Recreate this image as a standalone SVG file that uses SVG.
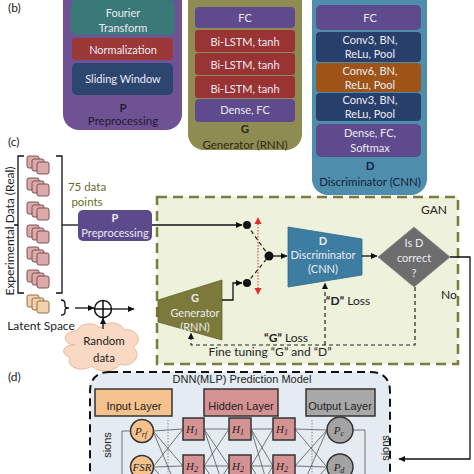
<svg xmlns="http://www.w3.org/2000/svg" width="474" height="474" viewBox="0 0 474 474">
<defs>
<style>
.lab{font-family:Lato,"Open Sans","Liberation Sans",sans-serif;font-size:11px;fill:#ecebf3;text-anchor:middle}
.dark{font-family:Lato,"Open Sans","Liberation Sans",sans-serif;font-size:11.5px;text-anchor:middle}
.cap{font-family:Lato,"Liberation Sans",sans-serif;font-size:12px;fill:#222}
.ln{stroke:#111;stroke-width:1.3;fill:none}
.dsh{stroke:#222;stroke-width:1.2;fill:none;stroke-dasharray:4,3}
.net{stroke:#555;stroke-width:0.8;fill:none}
.dnn{font-family:"Liberation Sans",Arial,sans-serif;font-size:11px;fill:#222;text-anchor:middle}
.math{font-family:"Liberation Serif","DejaVu Serif",serif;font-style:italic;font-size:11px;fill:#222;text-anchor:middle}
.hbox{fill:#d49292;stroke:#333;stroke-width:1.5}
.sq{fill:#dcaaaa;stroke:#6e4646;stroke-width:0.9}
.sqL{fill:#f2d2ab;stroke:#85653f;stroke-width:0.9}
</style>
<marker id="ah" markerWidth="7" markerHeight="7" refX="6" refY="3.5" orient="auto" markerUnits="userSpaceOnUse">
<path d="M0,0.5 L6.5,3.5 L0,6.5 Z" fill="#111"/>
</marker>
<g id="stack">
<rect x="27" y="0" width="12" height="12" rx="2" class="sq"/>
<rect x="32" y="3" width="12" height="12" rx="2" class="sq"/>
<rect x="37" y="6" width="12" height="12" rx="2" class="sq"/>
</g>
</defs>
<rect width="474" height="474" fill="#fff"/>

<!-- (b) -->
<text x="8" y="12" class="cap">(b)</text>
<g id="nodeP">
<rect x="63" y="-15" width="119" height="145" rx="16" fill="#6e5294"/>
<rect x="71" y="0" width="104" height="35" rx="5" fill="#3b7878"/>
<text x="123" y="17" class="lab">Fourier</text>
<text x="123" y="32" class="lab">Transform</text>
<rect x="72" y="38" width="101" height="22" rx="4" fill="#9c3838"/>
<text x="123" y="54" class="lab">Normalization</text>
<rect x="72" y="63" width="101" height="32" rx="5" fill="#2c4670"/>
<text x="123" y="83" class="lab">Sliding Window</text>
<text x="123" y="112" class="dark" fill="#231a33" font-weight="bold">P</text>
<text x="123" y="125" class="dark" fill="#231a33">Preprocessing</text>
</g>
<g id="nodeG">
<rect x="188" y="-15" width="114" height="165" rx="16" fill="#8f8c53"/>
<rect x="195" y="7" width="100" height="21" rx="4" fill="#5e4a8c"/>
<text x="245" y="22" class="lab">FC</text>
<rect x="195" y="30" width="100" height="22" rx="3" fill="#9a3434"/>
<text x="245" y="46" class="lab">Bi-LSTM, tanh</text>
<rect x="195" y="53" width="100" height="22" rx="3" fill="#9a3434"/>
<text x="245" y="69" class="lab">Bi-LSTM, tanh</text>
<rect x="195" y="76" width="100" height="22" rx="3" fill="#9a3434"/>
<text x="245" y="93" class="lab">Bi-LSTM, tanh</text>
<rect x="195" y="99" width="100" height="23" rx="4" fill="#5e4a8c"/>
<text x="245" y="114" class="lab">Dense, FC</text>
<text x="245" y="133" class="dark" fill="#2c2a12" font-weight="bold">G</text>
<text x="245" y="149" class="dark" fill="#2c2a12">Generator (RNN)</text>
</g>
<g id="nodeD">
<rect x="312" y="-15" width="115" height="210" rx="16" fill="#4e8dac"/>
<rect x="316" y="5" width="105" height="25" rx="5" fill="#5e4a8c"/>
<text x="370" y="22" class="lab">FC</text>
<rect x="316" y="32" width="105" height="30" rx="4" fill="#283f6b"/>
<text x="370" y="44" class="lab">Conv3, BN,</text>
<text x="370" y="58" class="lab">ReLu,  Pool</text>
<rect x="316" y="63" width="105" height="29" rx="4" fill="#9e5419"/>
<text x="370" y="75" class="lab">Conv6, BN,</text>
<text x="370" y="89" class="lab">ReLu,  Pool</text>
<rect x="316" y="93" width="105" height="28" rx="4" fill="#283f6b"/>
<text x="370" y="104" class="lab">Conv3, BN,</text>
<text x="370" y="118" class="lab">ReLu,  Pool</text>
<rect x="316" y="124" width="105" height="33" rx="5" fill="#5e4a8c"/>
<text x="370" y="137" class="lab">Dense, FC,</text>
<text x="370" y="152" class="lab">Softmax</text>
<text x="370" y="170" class="dark" fill="#16233d" font-weight="bold">D</text>
<text x="370" y="186" class="dark" fill="#16233d">Discriminator (CNN)</text>
</g>

<!-- (c) -->
<text x="8" y="146" class="cap">(c)</text>
<g id="nodeGAN">
<rect x="157" y="197" width="301" height="167" fill="#eef1dc" stroke="#7c7a3c" stroke-width="2.5" stroke-dasharray="10,6"/>
<text x="434" y="214" class="cap" text-anchor="middle" font-size="11">GAN</text>
</g>
<g id="nodeReal">
<use href="#stack" y="156"/>
<use href="#stack" y="178"/>
<use href="#stack" y="202"/>
<use href="#stack" y="225"/>
<use href="#stack" y="247"/>
<use href="#stack" y="270"/>
<path d="M24,156 H18 V293 H24 M18,225 H14" class="ln" stroke-width="1"/>
<path d="M56,156 H62 V293 H56" class="ln" stroke-width="1"/>
<text transform="translate(14,231) rotate(-90)" class="cap" text-anchor="middle">Experimental Data (Real)</text>
</g>
<text x="87" y="191" class="dark" fill="#6d6a2a">75 data</text>
<text x="87" y="206" class="dark" fill="#6d6a2a">points</text>
<g id="nodeLatent">
<rect x="27" y="295" width="12" height="12" rx="2" class="sqL"/>
<rect x="32" y="298" width="12" height="12" rx="2" class="sqL"/>
<rect x="37" y="301" width="12" height="12" rx="2" class="sqL"/>
<path d="M61,300 Q65,300 65,304 V306 Q65,308 69,308 Q65,308 65,310 V312 Q65,315 61,315" class="ln" stroke-width="1"/>
<text x="41" y="330" class="cap" text-anchor="middle" font-size="11.5">Latent Space</text>
</g>
<g id="nodeSum">
<circle cx="103" cy="309" r="8.5" fill="#fff" stroke="#111" stroke-width="1.5"/>
<path d="M94.5,309 H111.5 M103,300.5 V317.5" stroke="#111" stroke-width="1.5"/>
</g>
<g id="nodeRandom">
<path d="M75,345 C62,345 62,330 77,331 C80,322 95,322 100,328 C106,320 122,322 124,330 C138,328 143,342 133,347 C143,355 132,369 120,364 C114,373 98,373 92,366 C81,373 65,367 70,357 C60,355 62,344 75,345 Z" fill="#f9d8c4" stroke="#ebb99e" stroke-width="1"/>
<text x="104" y="345" class="dark" fill="#222">Random</text>
<text x="104" y="362" class="dark" fill="#222">data</text>
</g>
<g id="nodePc">
<rect x="78" y="210" width="74" height="31" rx="5" fill="#5c4a8c"/>
<text x="115" y="222" class="lab" font-weight="bold">P</text>
<text x="115" y="237" class="lab">Preprocessing</text>
</g>
<g id="nodeDtrap">
<polygon points="288,227 362,239 362,275 288,287" fill="#3d7da2" stroke="#2e6a8c" stroke-width="0.8"/>
<text x="323" y="245" class="lab" font-weight="bold">D</text>
<text x="323" y="259" class="lab">Discriminator</text>
<text x="323" y="273" class="lab">(CNN)</text>
</g>
<g id="nodeGtrap">
<polygon points="158,300 222,280 222,340 158,322" fill="#7b7a3b" stroke="#66652c" stroke-width="0.8"/>
<text x="195" y="302" class="lab" font-weight="bold">G</text>
<text x="195" y="317" class="lab">Generator</text>
<text x="195" y="331" class="lab">(RNN)</text>
</g>
<g id="nodeDiamond">
<polygon points="378,257 414,227 450,257 414,287" fill="#6d6d6d" stroke="#8a8a8a" stroke-width="0.8"/>
<text x="414" y="247" class="lab">Is D</text>
<text x="414" y="262" class="lab">correct</text>
<text x="414" y="277" class="lab">?</text>
</g>
<g id="switch">
<circle cx="247" cy="225" r="4" fill="#111"/>
<circle cx="247" cy="283" r="4" fill="#111"/>
<circle cx="269" cy="256" r="4.5" fill="#111"/>
<path d="M258,224 V289" stroke="#e05050" stroke-width="1.2" stroke-dasharray="1.5,1.5"/>
<polygon points="258,217 254.5,224 261.5,224" fill="#e03030"/>
<polygon points="258,295 254.5,288 261.5,288" fill="#e03030"/>
</g>

<!-- (d) -->
<text x="8" y="381" class="cap">(d)</text>
<g id="nodeDNN">
<path d="M110,372 H370 Q390,372 390,392 V480 H90 V392 Q90,372 110,372 Z" fill="#e5ebf3" stroke="#111" stroke-width="2" stroke-dasharray="8,5"/>
<text x="242" y="383" class="dnn">DNN(MLP) Prediction Model</text>
<rect x="95" y="389" width="77" height="27" fill="#f5c18c" stroke="#333" stroke-width="1.5"/>
<text x="134" y="410" class="dnn">Input Layer</text>
<rect x="204" y="389" width="74" height="27" fill="#d49292" stroke="#333" stroke-width="1.5"/>
<text x="241" y="410" class="dnn">Hidden Layer</text>
<rect x="306" y="389" width="69" height="27" fill="#a8a8a8" stroke="#333" stroke-width="1.5"/>
<text x="340" y="410" class="dnn">Output Layer</text>
<text transform="translate(111,445) rotate(-90)" class="dnn" text-anchor="end">sions</text>
<text transform="translate(389,448) rotate(-90)" class="dnn" text-anchor="end">sions</text>
</g>
<g id="netLines">
<path d="M168,420 V480 M312,420 V480" stroke="#777" stroke-width="0.8" stroke-dasharray="1.5,1.5"/>
<path d="M130,431 H122 V480 M353,430 H365 V480" class="net"/>
<path d="M153,431 L183,429 M153,431 L183,466 M153,467 L183,429 M153,467 L183,466 M153,431 L183,503 M153,467 L183,503" class="net"/>
<path d="M204,429 L229,429 M204,429 L229,466 M204,466 L229,429 M204,466 L229,466 M204,429 L229,503 M204,466 L229,503 M204,503 L229,466" class="net"/>
<path d="M251,429 L273,429 M251,429 L273,466 M251,466 L273,429 M251,466 L273,466 M251,429 L273,503 M251,466 L273,503 M251,503 L273,466" class="net"/>
<path d="M295,429 L327,430 M295,429 L327,467 M295,466 L327,430 M295,466 L327,467 M295,503 L327,467 M295,503 L327,430" class="net"/>
</g>
<g id="nodeNeurons">
<circle cx="142" cy="431" r="11.5" fill="#f5c18c" stroke="#333" stroke-width="1.5"/>
<text x="141" y="435" class="math">P<tspan font-size="8" dy="2">rf</tspan></text>
<circle cx="142" cy="467" r="11.5" fill="#f5c18c" stroke="#333" stroke-width="1.5"/>
<text x="142" y="471" class="math">FSR</text>
<rect x="183" y="418" width="21" height="22" class="hbox"/>
<text x="192" y="433" class="math">H<tspan font-size="8" dy="2">1</tspan></text>
<rect x="183" y="455" width="21" height="22" class="hbox"/>
<text x="192" y="470" class="math">H<tspan font-size="8" dy="2">2</tspan></text>
<rect x="229" y="418" width="22" height="22" class="hbox"/>
<text x="238" y="433" class="math">H<tspan font-size="8" dy="2">1</tspan></text>
<rect x="229" y="455" width="22" height="22" class="hbox"/>
<text x="238" y="470" class="math">H<tspan font-size="8" dy="2">2</tspan></text>
<rect x="273" y="418" width="22" height="22" class="hbox"/>
<text x="282" y="433" class="math">H<tspan font-size="8" dy="2">1</tspan></text>
<rect x="273" y="455" width="22" height="22" class="hbox"/>
<text x="282" y="470" class="math">H<tspan font-size="8" dy="2">2</tspan></text>
<circle cx="340" cy="430" r="13" fill="#a3a3a3" stroke="#333" stroke-width="1.5"/>
<text x="339" y="434" class="math">P<tspan font-size="8" dy="2">c</tspan></text>
<circle cx="340" cy="467" r="13" fill="#a3a3a3" stroke="#333" stroke-width="1.5"/>
<text x="339" y="471" class="math">P<tspan font-size="8" dy="2">d</tspan></text>
</g>

<!-- connectors -->
<g id="connectors">
<path d="M62,225 H78" class="ln"/>
<path d="M152,225 H242" class="ln" marker-end="url(#ah)"/>
<path d="M222,300 H233 V283 H242" class="ln" marker-end="url(#ah)"/>
<path d="M247,225 L269,256 L247,283" class="dsh"/>
<path d="M269,256 H287" class="ln" marker-end="url(#ah)"/>
<path d="M362,256 H377" class="ln" marker-end="url(#ah)"/>
<path d="M450,257 H470 V459 H399" class="ln" marker-end="url(#ah)"/>
<path d="M415,287 V345 H191 V333" class="dsh" marker-end="url(#ah)"/>
<path d="M325,345 V283" class="dsh" marker-end="url(#ah)"/>
<path d="M75,308 H94" class="ln" marker-end="url(#ah)"/>
<path d="M112,309 H134" class="ln" marker-end="url(#ah)"/>
<path d="M103,329 V318" class="ln" marker-end="url(#ah)"/>
<text x="449" y="299" class="cap" text-anchor="middle" font-size="11.5">No</text>
<text x="348" y="305" class="cap" text-anchor="middle" font-size="11.5"><tspan font-weight="bold">“D”</tspan> Loss</text>
<text x="286" y="342" class="cap" text-anchor="middle" font-size="11.5"><tspan font-weight="bold">“G”</tspan> Loss</text>
<text x="270" y="356" class="cap" text-anchor="middle" font-size="11">Fine tuning “G” and “D”</text>
</g>
</svg>
